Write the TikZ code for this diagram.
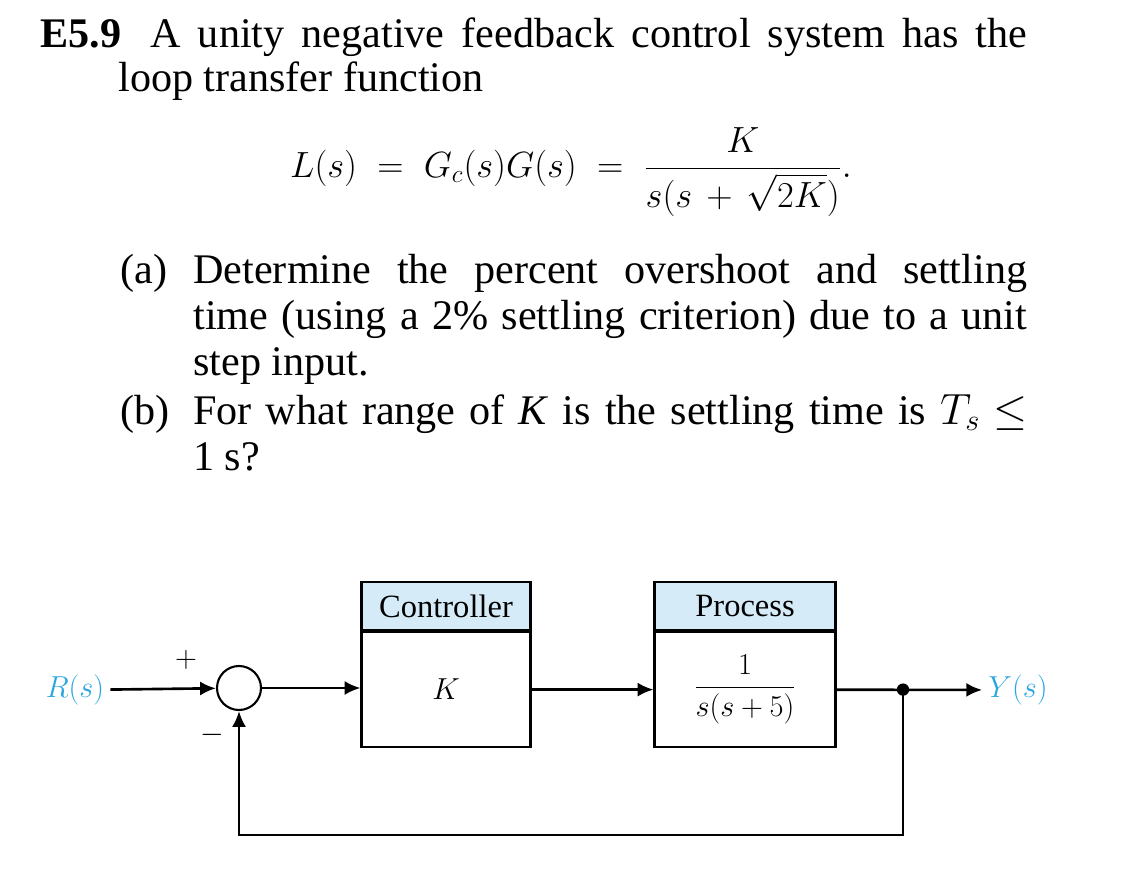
\documentclass[tikz,border=0pt]{standalone}
\usepackage{fontspec}
\usepackage{amsmath}
\setmainfont{Liberation Serif}
\usetikzlibrary{positioning,arrows.meta}
\definecolor{sigblue}{HTML}{2AA6DF}
\definecolor{headblue}{HTML}{D5ECF8}
\tikzset{
    txt/.style={anchor=base west,inner sep=0pt,font=\fontsize{24}{28}\selectfont},
    blk/.style={draw,line width=1.2pt,minimum width=3.38cm},
    blkhead/.style={blk,fill=headblue,minimum height=0.96cm},
    blkbody/.style={blk,minimum height=2.3cm},
    sig/.style={-{Latex[length=9pt,width=8pt]},line width=1.5pt},
    dfont/.style={font=\fontsize{18.5}{22}\selectfont}
}
\begin{document}
\begin{tikzpicture}[x=0.02cm,y=-0.02cm]
    \useasboundingbox (0,0) rectangle (1125,891);
    % problem text
    \node[txt] (num) at (40,48) {\textbf{E5.9}};
    \node[txt] (l1) at (150,48) {\makebox[17.54cm][s]{A unity negative feedback control system has the}};
    \node[txt] (l2) at (118,92) {loop transfer function};
    \node[inner sep=0pt,font=\fontsize{21}{25}\selectfont] (eq) at (571,172)
        {$\displaystyle L(s) \;=\; G_c(s)G(s) \;=\; \frac{K}{s(s\,+\,\sqrt{2K})}.$};
    \node[txt] (pa) at (120,284) {(a)};
    \node[txt] (a1) at (193,284) {\makebox[16.68cm][s]{Determine the percent overshoot and settling}};
    \node[txt] (a2) at (193,330) {\makebox[16.68cm][s]{time (using a 2\% settling criterion) due to a unit}};
    \node[txt] (a3) at (193,376) {step input.};
    \node[txt] (pb) at (120,424) {(b)};
    \node[txt] (b1) at (193,424) {\makebox[16.68cm][s]{For what range of \textit{K} is the settling time is $T_s\!\leq$}};
    \node[txt] (b2) at (193,470) {1 s?};

    % block diagram
    \begin{scope}[dfont]
    \node[text=sigblue] (R) at (75,690) {$R(s)$};
    \node[draw,line width=1.2pt,circle,minimum size=0.88cm,inner sep=0pt] (sum) at (239,688) {};
    \node (plus) at (186,660) {$+$};
    \node (minus) at (212,735) {$-$};
    \node[blkhead] (ctrlh) at (446,606) {Controller};
    \node[blkbody,below=0pt of ctrlh] (ctrl) {$K$};
    \node[blkhead,minimum width=3.62cm] (proch) at (745,606) {Process};
    \node[blkbody,minimum width=3.62cm,below=0pt of proch] (proc) {$\dfrac{1}{s(s+5)}$};
    \node[text=sigblue] (Y) at (1018,690) {$Y(s)$};
    \coordinate (tap) at (proc.east -| 903,0);
    \fill (tap) circle (3.5pt);
    \coordinate (fb) at (903,835);
    \draw[sig] (R) -- (sum);
    \draw[sig] (sum) -- (sum -| ctrl.west);
    \draw[sig] (ctrl) -- (proc);
    \draw[sig] (proc) -- (Y);
    \draw[sig] (tap) -- (fb) -| (sum.south);
    \end{scope}
\end{tikzpicture}
\end{document}
